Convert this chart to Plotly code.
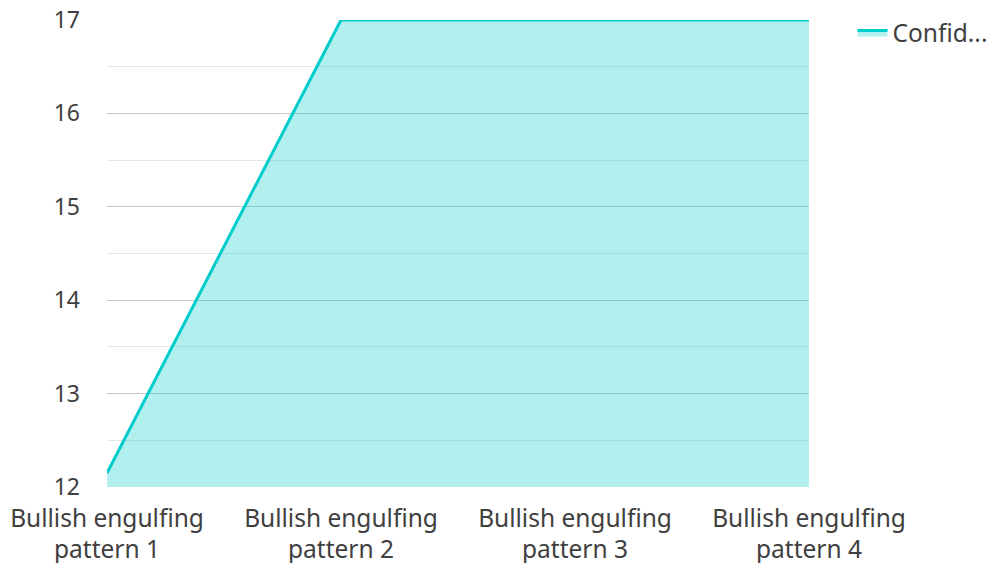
import plotly.graph_objects as go

categories = ["Bullish engulfing<br>pattern 1", "Bullish engulfing<br>pattern 2",
              "Bullish engulfing<br>pattern 3", "Bullish engulfing<br>pattern 4"]
values = [12.15, 17, 17, 17]
series_name = "Confid..."
y_ticks = [12, 13, 14, 15, 16, 17]

fig = go.Figure()
fig.add_trace(go.Scatter(
    x=list(range(len(categories))), y=values, name=series_name,
    mode="lines", fill="tozeroy",
    line=dict(color="#00cccc", width=3),
    fillcolor="rgba(0,204,204,0.3)",
))

font = "Noto Sans"
fig.update_layout(
    width=991, height=563,
    margin=dict(l=107, r=182, t=20, b=76, autoexpand=False),
    paper_bgcolor="white", plot_bgcolor="white",
    font=dict(family=font, size=22, color="#404040"),
    showlegend=True,
    legend=dict(x=1.062, y=1.021, xanchor="left", yanchor="top",
                font=dict(size=24.5, color="#404040"), itemwidth=30),
    xaxis=dict(
        tickmode="array", tickvals=list(range(len(categories))), ticktext=categories,
        range=[0, 3], showgrid=False, zeroline=False, showline=False,
        automargin=False, ticklabelstandoff=14,
        tickfont=dict(size=24.5, color="#404040"),
    ),
    yaxis=dict(
        range=[12, 17], tickmode="array", tickvals=y_ticks,
        showgrid=True, gridcolor="#c8c8c8", gridwidth=1,
        zeroline=False, showline=False, automargin=False,
        ticklabelstandoff=26,
        tickfont=dict(size=23, color="#404040"),
        minor=dict(dtick=0.5, tick0=12, showgrid=True, gridcolor="#e6e6e6", gridwidth=1),
    ),
)

fig.write_html("out.html", config={"displayModeBar": False},
               post_script="document.body.style.margin='0';")
